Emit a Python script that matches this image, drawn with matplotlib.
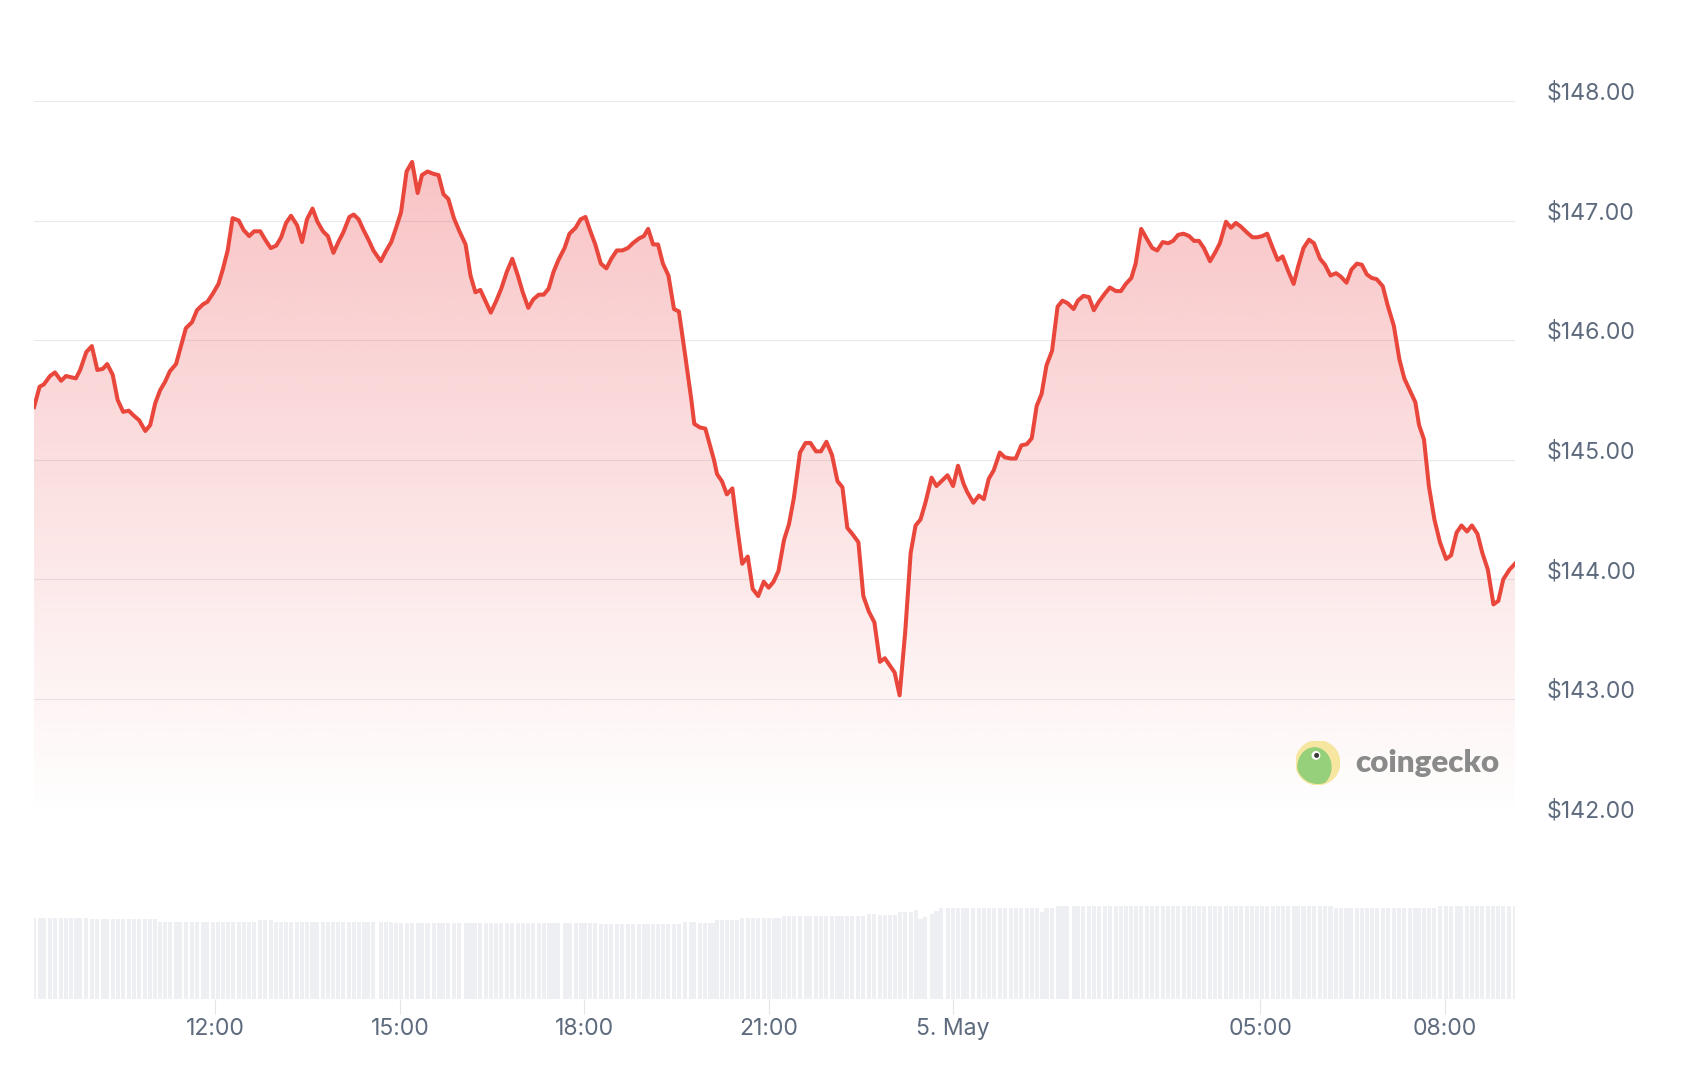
import numpy as np
import matplotlib
matplotlib.use('Agg')
import matplotlib.pyplot as plt
from matplotlib.patches import Polygon, Circle, Ellipse
from matplotlib.transforms import ScaledTranslation

# time of each point, hours since 4 May 00:00 (24h window, ~5 min steps)
hours = [
    9.05, 9.14, 9.21, 9.31, 9.39, 9.49, 9.57, 9.65, 9.73, 9.80, 9.90, 9.99,
    10.08, 10.17, 10.24, 10.33, 10.41, 10.50, 10.59, 10.67, 10.76, 10.86, 10.94,
    11.02, 11.10, 11.18, 11.26, 11.36, 11.43, 11.52, 11.62, 11.70, 11.80, 11.87, 11.96,
    12.05, 12.12, 12.20, 12.28, 12.38, 12.46, 12.55, 12.63, 12.73, 12.81, 12.90, 12.99,
    13.07, 13.15, 13.23, 13.33, 13.41, 13.49, 13.58, 13.66, 13.75, 13.83, 13.92,
    14.00, 14.08, 14.18, 14.25, 14.33, 14.41, 14.49, 14.57, 14.69, 14.77, 14.86, 14.94,
    15.02, 15.11, 15.20, 15.29, 15.36, 15.45, 15.55, 15.63, 15.71, 15.79, 15.88, 15.97,
    16.07, 16.15, 16.23, 16.31, 16.40, 16.48, 16.57, 16.65, 16.74, 16.83, 16.92,
    17.00, 17.09, 17.17, 17.26, 17.34, 17.42, 17.50, 17.58, 17.68, 17.76, 17.86, 17.94,
    18.02, 18.10, 18.18, 18.27, 18.36, 18.44, 18.53, 18.62, 18.71, 18.79, 18.89, 18.97,
    19.04, 19.12, 19.20, 19.28, 19.37, 19.46, 19.54, 19.64, 19.74, 19.79, 19.88, 19.97,
    20.04, 20.11, 20.16, 20.24, 20.32, 20.41, 20.49, 20.57, 20.66, 20.74, 20.83, 20.92,
    21.00, 21.08, 21.16, 21.25, 21.33, 21.41, 21.51, 21.60, 21.68, 21.77, 21.85, 21.94,
    22.03, 22.12, 22.20, 22.28, 22.36, 22.46, 22.54, 22.63, 22.72, 22.81, 22.89, 22.97,
    23.05, 23.13, 23.22, 23.31, 23.39, 23.47, 23.55, 23.65, 23.73, 23.81, 23.91,
    24.00, 24.08, 24.17, 24.23, 24.33, 24.42, 24.50, 24.58, 24.66, 24.76, 24.84, 24.94,
    25.02, 25.11, 25.20, 25.28, 25.36, 25.44, 25.52, 25.61, 25.70, 25.78, 25.86, 25.96,
    26.03, 26.12, 26.21, 26.29, 26.37, 26.47, 26.55, 26.65, 26.73, 26.81, 26.90, 26.97,
    27.06, 27.16, 27.24, 27.32, 27.41, 27.50, 27.58, 27.66, 27.75, 27.84, 27.92,
    28.00, 28.08, 28.18, 28.26, 28.34, 28.44, 28.52, 28.60, 28.68, 28.78, 28.87, 28.95,
    29.03, 29.11, 29.20, 29.28, 29.36, 29.45, 29.54, 29.61, 29.70, 29.79, 29.87, 29.97,
    30.05, 30.14, 30.23, 30.31, 30.40, 30.48, 30.57, 30.65, 30.73, 30.81, 30.89, 30.99,
    31.07, 31.17, 31.26, 31.34, 31.43, 31.52, 31.58, 31.66, 31.74, 31.83, 31.92,
    32.02, 32.10, 32.19, 32.27, 32.36, 32.44, 32.53, 32.61, 32.70, 32.79, 32.87, 32.95,
    33.05, 33.14,
]

price = [
    145.44, 145.61, 145.63, 145.70, 145.73, 145.66, 145.70, 145.69, 145.68, 145.75, 145.90, 145.95,
    145.75, 145.76, 145.80, 145.71, 145.50, 145.40, 145.41, 145.37, 145.33, 145.24, 145.29,
    145.47, 145.58, 145.65, 145.74, 145.80, 145.93, 146.10, 146.15, 146.25, 146.30, 146.32, 146.39,
    146.47, 146.59, 146.75, 147.02, 147.00, 146.92, 146.87, 146.91, 146.91, 146.84, 146.77, 146.79,
    146.86, 146.98, 147.04, 146.96, 146.82, 147.01, 147.10, 146.99, 146.91, 146.87, 146.73,
    146.82, 146.90, 147.03, 147.05, 147.01, 146.92, 146.84, 146.75, 146.66, 146.74, 146.82, 146.94,
    147.07, 147.41, 147.49, 147.23, 147.38, 147.41, 147.39, 147.38, 147.22, 147.18, 147.02, 146.91,
    146.80, 146.54, 146.40, 146.42, 146.32, 146.23, 146.33, 146.43, 146.57, 146.68, 146.54,
    146.40, 146.27, 146.34, 146.38, 146.38, 146.43, 146.57, 146.67, 146.77, 146.89, 146.94, 147.01,
    147.03, 146.91, 146.80, 146.64, 146.60, 146.68, 146.75, 146.75, 146.77, 146.81, 146.85, 146.87,
    146.93, 146.80, 146.80, 146.64, 146.54, 146.26, 146.24, 145.88, 145.51, 145.30, 145.27, 145.26,
    145.13, 145.00, 144.88, 144.82, 144.71, 144.76, 144.43, 144.13, 144.19, 143.92, 143.86, 143.98,
    143.93, 143.98, 144.07, 144.33, 144.46, 144.68, 145.06, 145.14, 145.14, 145.07, 145.07, 145.15,
    145.04, 144.82, 144.77, 144.43, 144.38, 144.31, 143.86, 143.73, 143.64, 143.31, 143.34, 143.28,
    143.22, 143.03, 143.55, 144.22, 144.45, 144.50, 144.64, 144.85, 144.78, 144.82, 144.87,
    144.78, 144.95, 144.80, 144.73, 144.64, 144.70, 144.67, 144.84, 144.91, 145.06, 145.02, 145.01,
    145.01, 145.12, 145.13, 145.18, 145.45, 145.55, 145.79, 145.91, 146.28, 146.33, 146.31, 146.26,
    146.33, 146.37, 146.36, 146.25, 146.32, 146.39, 146.44, 146.41, 146.41, 146.47, 146.52, 146.64,
    146.93, 146.84, 146.77, 146.75, 146.82, 146.81, 146.83, 146.88, 146.89, 146.87, 146.83,
    146.83, 146.77, 146.66, 146.73, 146.81, 146.99, 146.94, 146.98, 146.95, 146.90, 146.86, 146.86,
    146.87, 146.89, 146.77, 146.67, 146.70, 146.58, 146.47, 146.61, 146.77, 146.84, 146.81, 146.68,
    146.63, 146.54, 146.56, 146.53, 146.48, 146.59, 146.64, 146.63, 146.55, 146.52, 146.51, 146.45,
    146.29, 146.12, 145.84, 145.68, 145.58, 145.48, 145.29, 145.17, 144.78, 144.50, 144.31,
    144.17, 144.20, 144.39, 144.45, 144.40, 144.45, 144.38, 144.22, 144.08, 143.79, 143.82, 144.00,
    144.08, 144.13,
]

# rolling 24h volume (billions USD), one bar per point
volume = ([2.44] * 11 + [2.39] * 13 + [2.32] * 19 + [2.37] * 3 + [2.32] * 23 + [2.27] * 39
          + [2.24] * 16 + [2.30] * 3 + [2.27] * 4 + [2.37] * 5 + [2.42] * 8 + [2.49] * 16
          + [2.54] * 2 + [2.52] * 4 + [2.60] * 2 + [2.62, 2.67, 2.39, 2.45, 2.54, 2.64]
          + [2.72] * 19 + [2.62] + [2.72] * 2 + [2.79] * 53 + [2.72] * 20 + [2.79] * 15)

price_ticks = [142, 143, 144, 145, 146, 147, 148]
time_ticks = [12, 15, 18, 21, 24, 29, 32]
time_labels = ['12:00', '15:00', '18:00', '21:00', '5. May', '05:00', '08:00']

line_color = '#e9463c'
label_color = '#5e6a7d'
plt.rcParams['font.family'] = ['Inter', 'DejaVu Sans']

fig = plt.figure(figsize=(17.02, 10.66), dpi=100)

# price panel
ax = fig.add_axes([0.02, 0.2322, 0.8701, 0.6731])
ax.set_xlim(hours[0], hours[-1])
ax.set_ylim(142, 148)

# gradient fill under the line
grad = np.zeros((256, 1, 4))
grad[:, 0, 0] = 234 / 255
grad[:, 0, 1] = 57 / 255
grad[:, 0, 2] = 62 / 255
grad[:, 0, 3] = np.linspace(0.0, 0.33, 256)
img = ax.imshow(grad, extent=[hours[0], hours[-1], 142, 148], aspect='auto',
                origin='lower', zorder=1, interpolation='bilinear')
verts = list(zip(hours, price)) + [(hours[-1], 142), (hours[0], 142)]
clip = Polygon(verts, closed=True, facecolor='none', edgecolor='none')
ax.add_patch(clip)
img.set_clip_path(clip)

ax.plot(hours, price, color=line_color, lw=2.9, zorder=3, solid_joinstyle='round')

ax.set_yticks(price_ticks)
ax.set_yticklabels([f'${v:.2f}' for v in price_ticks])
ax.yaxis.tick_right()
ax.tick_params(axis='y', length=0, pad=23, labelsize=16.6, labelcolor=label_color)
for lab in ax.get_yticklabels():
    lab.set_transform(lab.get_transform() + ScaledTranslation(0, 0.1, fig.dpi_scale_trans))
ax.set_xticks([])
ax.grid(axis='y', color='#e8e9ed', lw=0.8)
ax.set_axisbelow(True)
for s in ax.spines.values():
    s.set_visible(False)

# volume panel
axv = fig.add_axes([0.02, 0.0629, 0.8701, 0.0872])
axv.bar(hours, volume, width=0.066, color='#edeff3', linewidth=0)
axv.set_xlim(hours[0], hours[-1])
axv.set_ylim(0, max(volume))
axv.set_yticks([])
axv.set_xticks(time_ticks)
axv.set_xticklabels(time_labels)
axv.tick_params(axis='x', length=11, width=0.8, color='#e3e5ea', pad=3,
                labelsize=16.6, labelcolor=label_color)
for s in axv.spines.values():
    s.set_visible(False)

# coingecko watermark
axl = fig.add_axes([0.7613, 0.2639, 0.02585, 0.04128])
axl.set_xlim(-1, 1)
axl.set_ylim(-1, 1)
axl.axis('off')
ring = Circle((0, 0), 1, color='#f6e6a0')
axl.add_patch(ring)
body = Ellipse((-0.15, -0.2), 1.5, 1.75, color='#97d07a')
axl.add_patch(body)
body.set_clip_path(Circle((0, 0), 0.97, transform=axl.transData))
axl.add_patch(Circle((-0.08, 0.33), 0.17, color='white'))
axl.add_patch(Circle((-0.05, 0.33), 0.08, color='#3a3a3a'))
fig.text(0.7961, 0.2845, 'coingecko', fontsize=22.5, fontweight='heavy',
         color='#8a8a8a', va='center', ha='left', family=['Lato', 'DejaVu Sans'])

fig.savefig('out.png', dpi=100, facecolor='white')
